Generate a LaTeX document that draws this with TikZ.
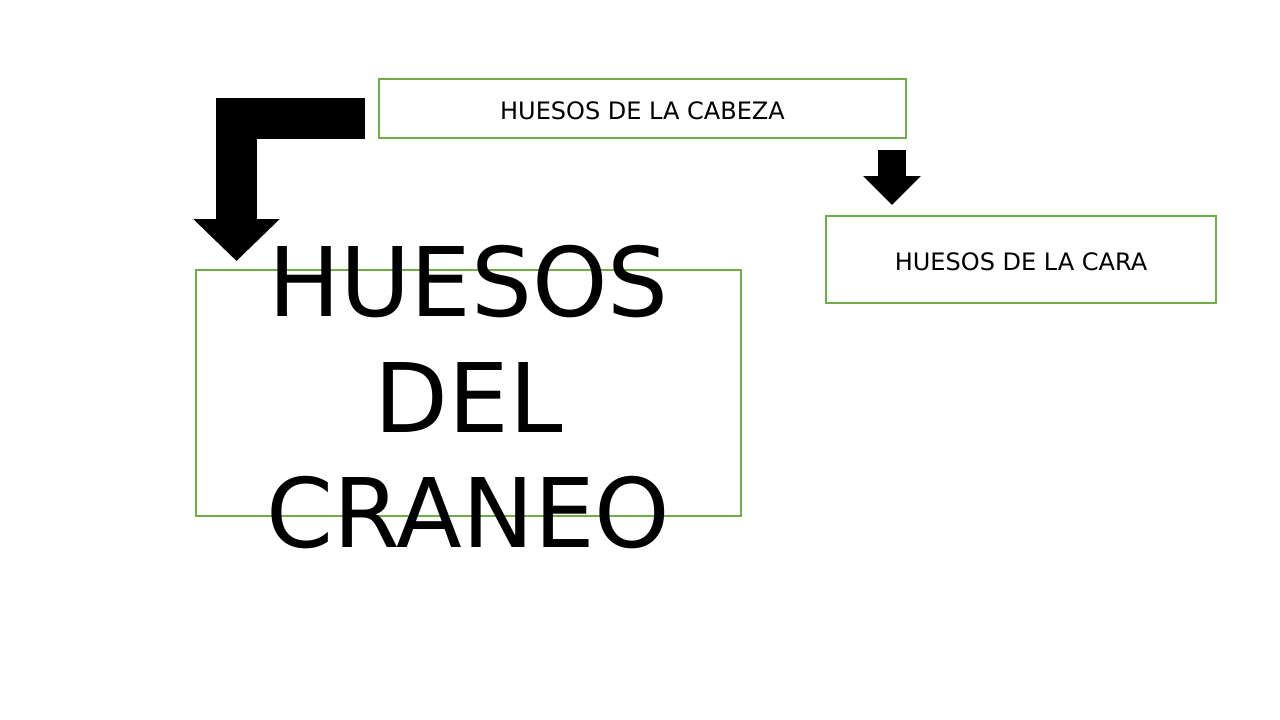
\documentclass[tikz,border=0pt]{standalone}
\usepackage{fontspec}
\setmainfont{DejaVu Sans}
\usetikzlibrary{arrows.meta}
\definecolor{boxgreen}{HTML}{70AD47}

\begin{document}
\begin{tikzpicture}[x=1pt, y=-1pt, box/.style={draw=boxgreen, line width=1.5pt, inner sep=0pt, align=center}, small/.style={font=\fontsize{24}{29}\selectfont, text height=21pt, text depth=0pt}, big/.style={font=\fontsize{96}{115.5}\selectfont, inner sep=0pt, align=center}, blockarrow/.style={draw=black, line join=miter}]
  \useasboundingbox[fill=white] (0,0) rectangle (1280,720);

  \node[box, small, minimum width=527pt, minimum height=59pt] (cabeza) at (642.5,108.5) {HUESOS DE LA CABEZA};
  \node[box, small, minimum width=390pt, minimum height=87pt] (cara) at (1021,259.5) {HUESOS DE LA CARA};
  \node[box, minimum width=545pt, minimum height=246pt] (craneo) at (468.5,393) {};
  \node[big] (craneotxt) at ([yshift=-4.5pt]craneo.center) {HUESOS\\DEL\\CRANEO};

  \coordinate (bigstart) at (365,118.5);
  \coordinate (bigend) at (236.5,261);
  \coordinate (smallstart) at (892,150);
  \coordinate (smallend) at (892,205);

  \draw[blockarrow, line width=41pt, -{Triangle[length=42pt, width=84pt]}] (bigstart) -| (bigend);
  \draw[blockarrow, line width=28pt, -{Triangle[length=29pt, width=56pt]}] (smallstart) -- (smallend);
\end{tikzpicture}
\end{document}
